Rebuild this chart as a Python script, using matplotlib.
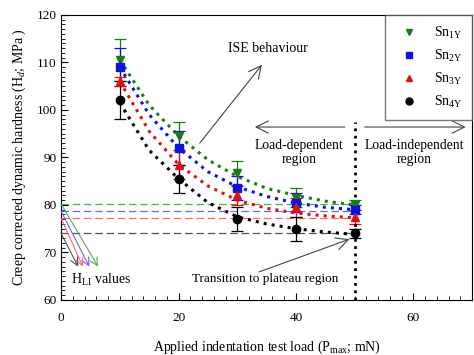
import matplotlib.pyplot as plt
from matplotlib.lines import Line2D
from matplotlib.ticker import MultipleLocator

plt.rcParams['font.family'] = ['Liberation Serif', 'DejaVu Serif']
plt.rcParams['mathtext.fontset'] = 'custom'
plt.rcParams['mathtext.rm'] = 'Liberation Serif'
plt.rcParams['mathtext.it'] = 'Liberation Serif:italic'

loads = [10, 20, 30, 40, 50]
names = ['Sn$_{\\mathrm{1Y}}$', 'Sn$_{\\mathrm{2Y}}$', 'Sn$_{\\mathrm{3Y}}$', 'Sn$_{\\mathrm{4Y}}$']
colors = ['#1a7a1a', '#1010e0', '#e01010', 'black']
markers = ['v', 's', '^', 'o']

hd = [
    [110.5, 94.5, 86.8, 81.5, 80.0],
    [109.0, 92.0, 83.5, 80.5, 79.0],
    [106.0, 88.5, 82.0, 79.5, 77.5],
    [102.0, 85.5, 77.0, 75.0, 74.0],
]
err = [
    [4.5, 3.0, 2.5, 2.0, 1.0],
    [4.0, 3.5, 2.5, 2.0, 1.0],
    [1.0, 3.0, 2.0, 2.0, 1.5],
    [4.0, 3.0, 2.5, 2.5, 1.0],
]

# dotted fit curves
fit_x = [10, 15, 20, 25, 30, 35, 40, 45, 50]
fit_y = [
    [110.5, 101.0, 94.5, 89.5, 86.0, 83.5, 82.0, 80.8, 80.0],
    [109.0, 99.0, 92.0, 87.0, 83.8, 81.8, 80.4, 79.5, 79.0],
    [106.0, 95.5, 88.5, 84.0, 81.0, 79.3, 78.3, 77.7, 77.3],
    [101.5, 91.5, 85.5, 80.5, 77.5, 76.0, 75.0, 74.3, 73.8],
]
hli = [80.2, 78.7, 77.2, 74.0]
hli_tips = [6.3, 4.8, 3.7, 2.9]
dash_colors = ['#55aa55', '#6666ff', '#ff6666', '#555555']

fig = plt.figure(figsize=(4.74, 3.55), dpi=100)
ax = fig.add_axes([0.129, 0.155, 0.867, 0.803])

for i in range(4):
    ax.axhline(hli[i], xmin=0, xmax=50 / 70, color=dash_colors[i], ls=(0, (6, 3)), lw=0.9)
    ax.plot(fit_x, fit_y[i], ls=':', color=colors[i], lw=2.2)
    ax.errorbar(loads, hd[i], yerr=err[i], fmt=markers[i], color=colors[i], ms=6,
                capsize=4, elinewidth=0.9, capthick=0.9)
    ax.annotate('', xy=(hli_tips[i], 67.0), xytext=(0, hli[i]),
                arrowprops=dict(arrowstyle='->', color=dash_colors[i], lw=0.8,
                                shrinkA=0, shrinkB=0, mutation_scale=14))

ax.plot([50, 50], [60, 97.5], ls=':', color='black', lw=2)

arrow = dict(arrowstyle='->', color='#444444', lw=0.8, shrinkA=0, shrinkB=0, mutation_scale=22)
ax.text(35.2, 113, 'ISE behaviour', ha='center', va='center', fontsize=10)
ax.annotate('', xy=(34.2, 109.5), xytext=(23.6, 93), arrowprops=arrow)
ax.annotate('', xy=(33.0, 96.4), xytext=(48.3, 96.4), arrowprops=arrow)
ax.annotate('', xy=(68.9, 96.4), xytext=(51.7, 96.4), arrowprops=arrow)
ax.text(40.6, 91.0, 'Load-dependent\nregion', ha='center', va='center', fontsize=9.8, linespacing=1.15)
ax.text(60.2, 91.0, 'Load-independent\nregion', ha='center', va='center', fontsize=9.8, linespacing=1.15)
ax.text(34.7, 64.4, 'Transition to plateau region', ha='center', va='center', fontsize=9.5)
ax.annotate('', xy=(49.1, 72.8), xytext=(33.7, 65.9), arrowprops=arrow)
ax.text(1.7, 64.2, 'H$_{\\mathrm{LI}}$ values', ha='left', va='center', fontsize=10)

ax.set_xlim(0, 70)
ax.set_ylim(60, 120)
ax.xaxis.set_major_locator(MultipleLocator(20))
ax.xaxis.set_minor_locator(MultipleLocator(2))
ax.yaxis.set_major_locator(MultipleLocator(10))
ax.yaxis.set_minor_locator(MultipleLocator(1))
ax.tick_params(which='both', direction='in', labelsize=9.5)
ax.tick_params(which='major', length=5)
ax.tick_params(which='minor', length=3)
ax.tick_params(axis='x', pad=9)
ax.set_xlabel('Applied indentation test load (P$_{\\mathrm{max}}$; mN)', fontsize=10, labelpad=10)
ax.set_ylabel('Creep corrected dynamic hardness (H$_d$; MPa )', fontsize=10, labelpad=6)

handles = [Line2D([], [], marker=markers[i], color=colors[i], ls='none', ms=5) for i in range(4)]
ax.legend(handles, names, loc='upper right', fontsize=10, frameon=True, fancybox=False,
          edgecolor='#555555', borderaxespad=0, handletextpad=0.8, handlelength=2.0,
          labelspacing=0.5, borderpad=0.7)

fig.savefig('out.png', dpi=100)
